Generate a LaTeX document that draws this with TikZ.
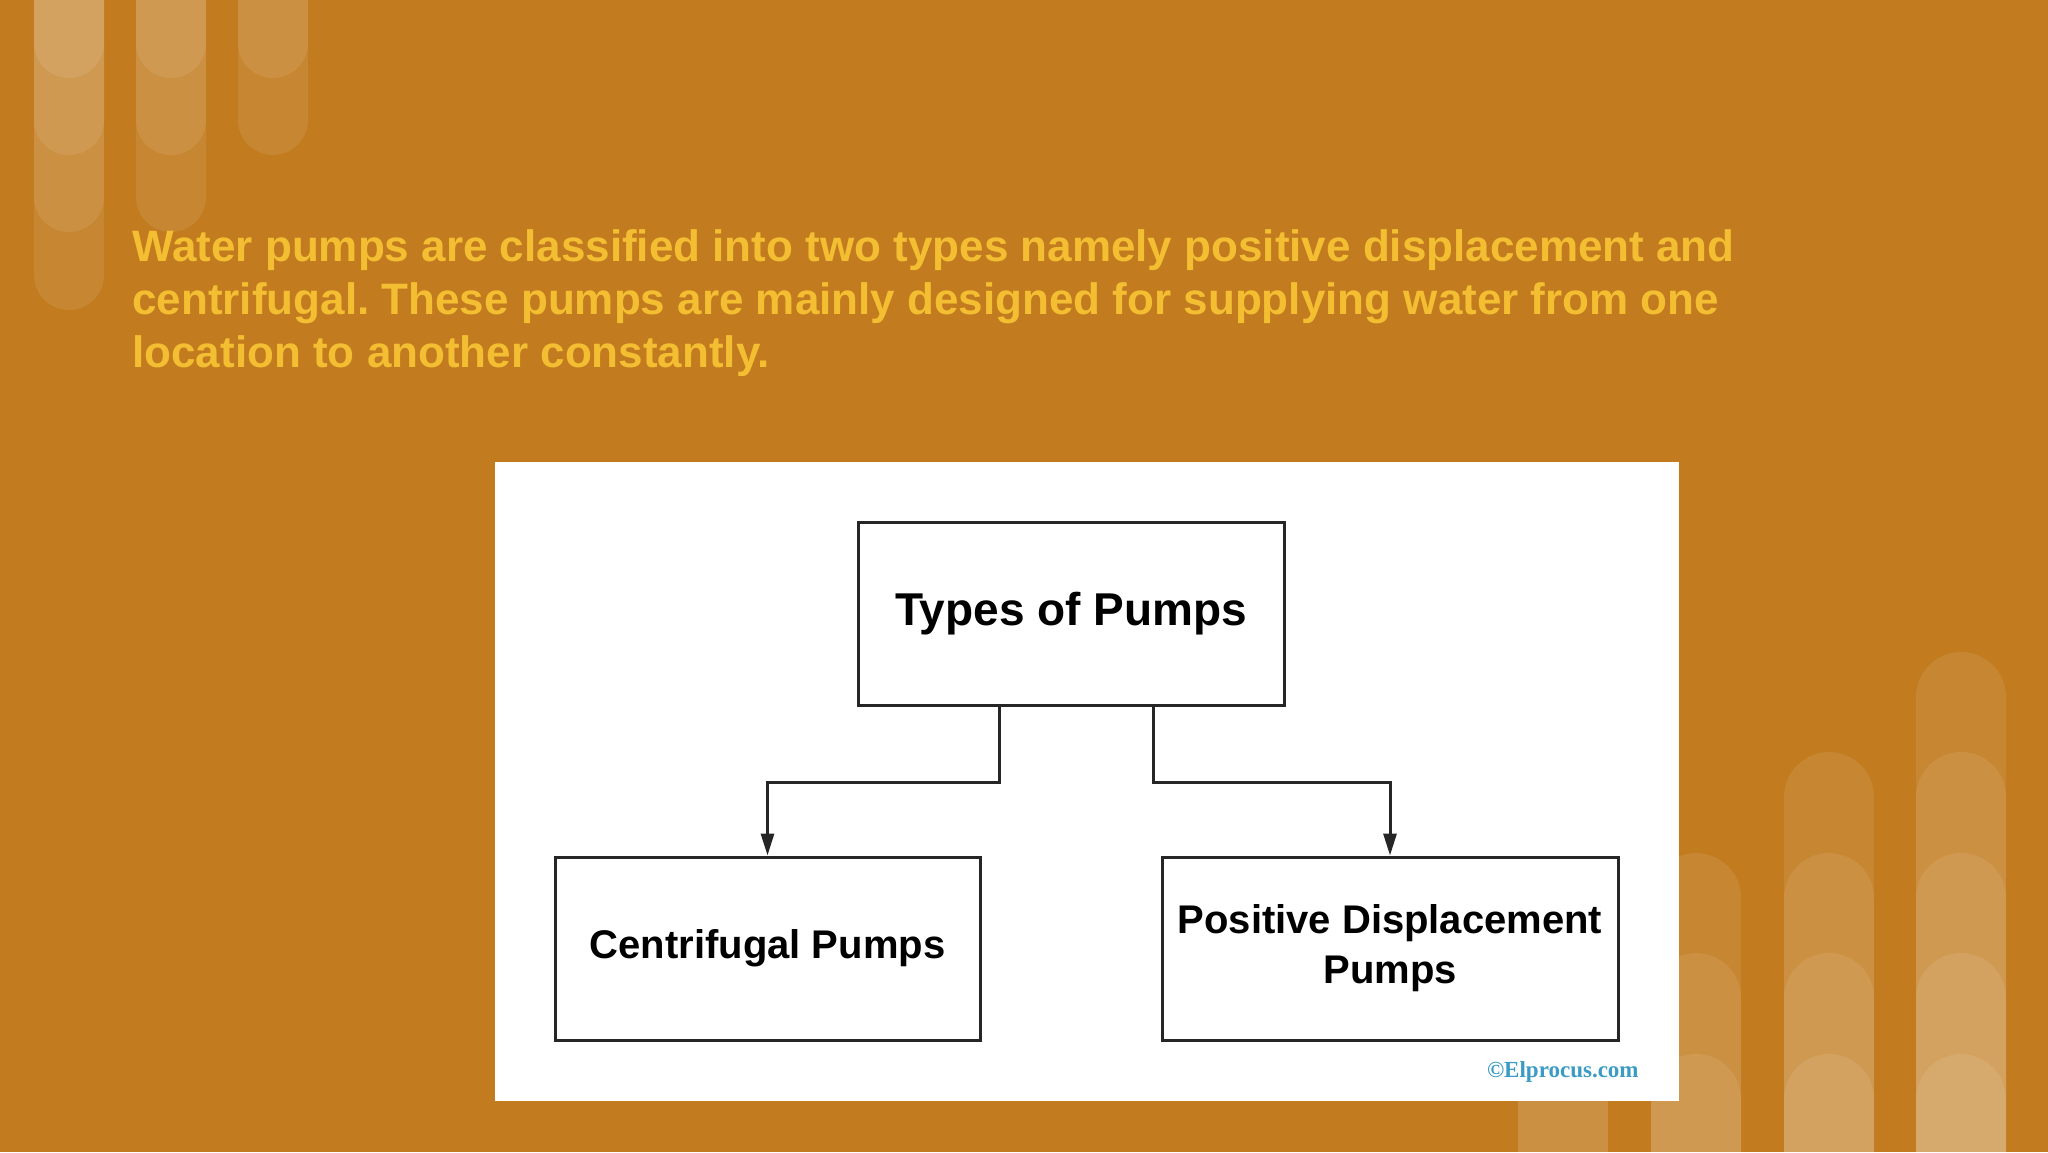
\documentclass[tikz,border=0pt]{standalone}
\usepackage{fontspec}
\setmainfont{Liberation Sans}
\newfontfamily\serifcr{Liberation Serif}
\usetikzlibrary{arrows.meta}
\definecolor{bg}{HTML}{C27B1E}
\definecolor{para}{HTML}{F3BE32}
\definecolor{cr}{HTML}{3A9CC4}
\frenchspacing
\begin{document}
\begin{tikzpicture}[x=0.5pt,y=-0.5pt,
  box/.style={draw=black!85,line width=1.5pt,fill=white,inner sep=0pt,align=center,minimum height=91.5pt},
  conn/.style={line width=1.5pt,draw=black!85,-{Triangle[length=11pt,width=6.5pt]}},
  bar/.style={fill=white,fill opacity=0.085},
  ptext/.style={anchor=base west,text=para,font=\bfseries\fontsize{22}{26}\selectfont,inner sep=0pt}]
\useasboundingbox (0,0) rectangle (2048,1152);
\fill[bg] (0,0) rectangle (2048,1152);
% top-left decorative bars
\foreach \x/\bots in {34/{78,155,232,310},136/{78,155,232},238/{78,155}}{
  \foreach \b in \bots {\fill[bar,rounded corners=17.5pt] (\x,-60) rectangle ++(70,\b+60);}
}
% bottom-right decorative bars
\foreach \x/\tops in {1518/{953,1054},1651/{853,953,1054},1784/{752,853,953,1054},1916/{652,752,853,953,1054}}{
  \foreach \t in \tops {\fill[bar,rounded corners=22.5pt] (\x,\t) rectangle ++(90,1300-\t);}
}
% paragraph
\node[ptext] (p1) at (132,261) {Water pumps are classified into two types namely positive displacement and};
\node[ptext] (p2) at (132,314) {centrifugal. These pumps are mainly designed for supplying water from one};
\node[ptext] (p3) at (132,367) {location to another constantly.};
% white panel
\fill[white] (495,462) rectangle (1679,1101);
% diagram
\node[box,minimum width=213pt,font=\bfseries\fontsize{23}{27}\selectfont] (top) at (1071,613.5) {Types of Pumps};
\node[box,minimum width=212.5pt,font=\bfseries\fontsize{20}{24}\selectfont] (left) at (767.5,948.5) {Centrifugal Pumps};
\node[box,minimum width=228pt,font=\bfseries\fontsize{20}{25}\selectfont] (right) at (1390,948.5) {Positive Displacement\\Pumps};
\draw[conn] ([xshift=-36pt]top.south) -- ++(0,76) -| (left.north);
\draw[conn] ([xshift=41pt]top.south) -- ++(0,76) -| (right.north);
\node[font=\serifcr\bfseries\fontsize{11.5}{12}\selectfont,text=cr,anchor=east,inner sep=0pt] (copy) at (1639,1072) {©Elprocus.com};
\end{tikzpicture}
\end{document}
